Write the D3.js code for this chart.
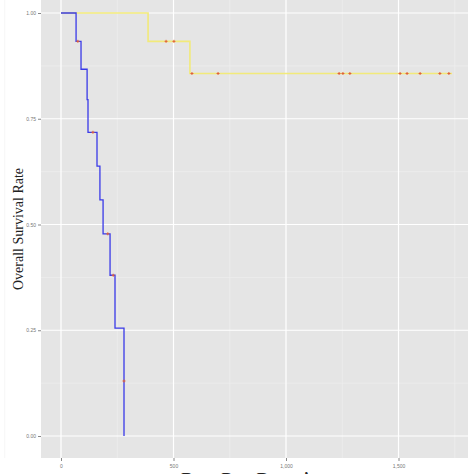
<!DOCTYPE html><html><head><script src="https://cdnjs.cloudflare.com/ajax/libs/d3/7.8.5/d3.min.js"></script>
<style>body{margin:0;background:#fff}</style></head><body><svg id="c" width="474" height="474"></svg><script>
const blueT=[0,67,89,116,120,160,173,187,218,240,280];
const blueS=[1,0.933,0.867,0.795,0.718,0.638,0.558,0.478,0.38,0.255,0];
const blueCensT=[75,142,208,232,280];
const blueCensS=[0.933,0.718,0.478,0.38,0.13];
const yelT=[0,387,573,1738];
const yelS=[1,0.933,0.857,0.857];
const yelCensT=[467,502,582,698,1236,1253,1284,1507,1538,1596,1684,1724];
const yelCensS=[0.933,0.933,0.857,0.857,0.857,0.857,0.857,0.857,0.857,0.857,0.857,0.857];
const xTicks=[0,500,1000,1500];
const yTicks=[0,0.25,0.5,0.75,1];
const svg=d3.select("#c");
const L=41,R=468,T=0,B=458;
const x=d3.scaleLinear().domain([0,1500]).range([61,398.5]);
const y=d3.scaleLinear().domain([0,1]).range([436,13]);
svg.append("rect").attr("x",L).attr("y",T).attr("width",R-L).attr("height",B-T).attr("fill","#e5e5e5");
// minor grid
[-250,250,750,1250,1750].forEach(v=>svg.append("line").attr("x1",x(v)).attr("x2",x(v)).attr("y1",T).attr("y2",B).attr("stroke","#f0f0f0").attr("stroke-width",0.6));
[0.125,0.375,0.625,0.875].forEach(v=>svg.append("line").attr("y1",y(v)).attr("y2",y(v)).attr("x1",L).attr("x2",R).attr("stroke","#f0f0f0").attr("stroke-width",0.6));
xTicks.forEach(v=>svg.append("line").attr("x1",x(v)).attr("x2",x(v)).attr("y1",T).attr("y2",B).attr("stroke","#fff").attr("stroke-width",1.2));
yTicks.forEach(v=>svg.append("line").attr("y1",y(v)).attr("y2",y(v)).attr("x1",L).attr("x2",R).attr("stroke","#fff").attr("stroke-width",1.2));
const ax=svg.append("g").attr("transform",`translate(0,${B})`).call(d3.axisBottom(x).tickValues(xTicks).tickSize(3).tickPadding(3));
const ay=svg.append("g").attr("transform",`translate(${L},0)`).call(d3.axisLeft(y).tickValues(yTicks).tickFormat(d3.format(".2f")).tickSize(3).tickPadding(2));
[ax,ay].forEach(a=>{a.select(".domain").remove();a.selectAll("line").attr("stroke","#888");a.selectAll("text").attr("fill","#777").attr("font-size",5).attr("font-family","Liberation Sans");});
const step=d3.line().curve(d3.curveStepAfter).x(d=>x(d[0])).y(d=>y(d[1]));
svg.append("path").attr("d",step(yelT.map((t,i)=>[t,yelS[i]]))).attr("fill","none").attr("stroke","#f2ea7a").attr("stroke-width",1.6);
svg.append("path").attr("d",step(blueT.map((t,i)=>[t,blueS[i]]))).attr("fill","none").attr("stroke","#3a3ae8").attr("stroke-width",1.3);
function cens(ts,ss){ts.forEach((t,i)=>{const cx=x(t),cy=y(ss[i]);svg.append("path").attr("d",`M${cx-1.5},${cy}h3M${cx},${cy-1.5}v3`).attr("stroke","#e0603a").attr("stroke-width",1);});}
cens(yelCensT,yelCensS);cens(blueCensT,blueCensS);
svg.append("text").attr("transform","translate(23,229) rotate(-90)").attr("text-anchor","middle").attr("font-family","Liberation Serif").attr("font-size",14).attr("fill","#222").text("Overall Survival  Rate");
svg.append("text").attr("x",254).attr("y",484).attr("text-anchor","middle").attr("font-family","Liberation Serif").attr("font-weight","bold").attr("font-size",17).attr("fill","#222").text("Days Post Resection");
</script></body></html>
